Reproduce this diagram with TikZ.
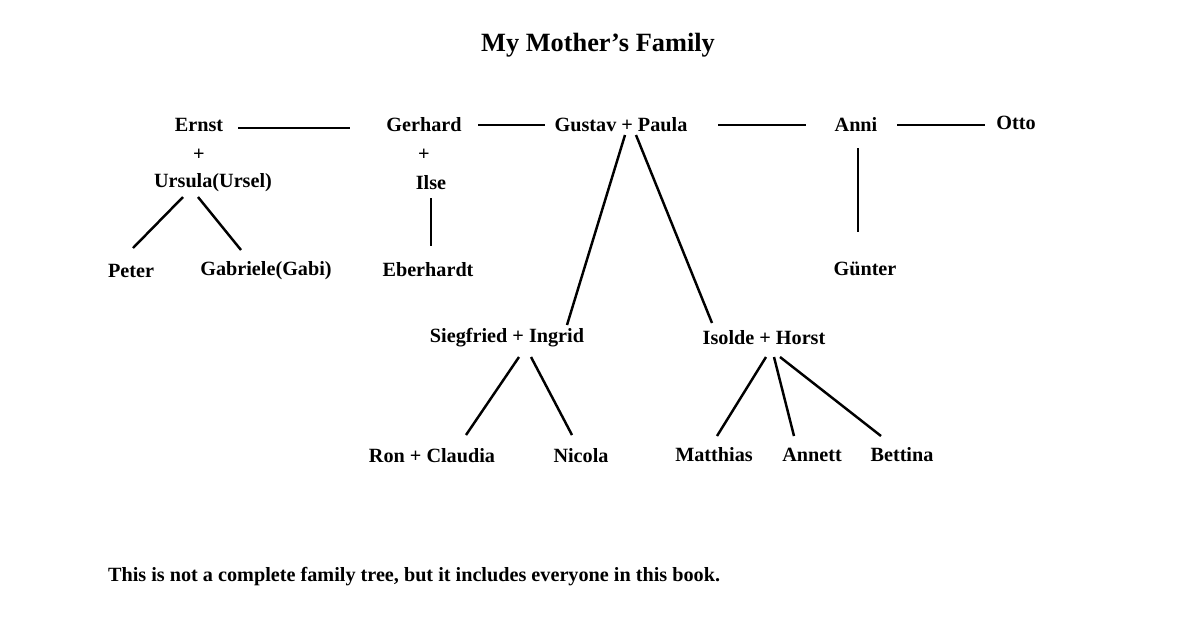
\documentclass[tikz,border=0pt]{standalone}
\usepackage{fontspec}
\setmainfont{Liberation Serif}
\begin{document}
\begin{tikzpicture}[x=0.02cm,y=-0.02cm,
  nm/.style={font=\fontsize{11.5}{13}\selectfont\bfseries,inner sep=1pt},
  ln/.style={line width=1.4pt}]
\useasboundingbox (0,0) rectangle (1200,630);
\node[font=\fontsize{15}{17}\selectfont\bfseries] (title) at (598,45) {My Mother’s Family};
\node[nm] (ernst) at (199,125) {Ernst};
\node[nm] (p1) at (199,155) {+};
\node[nm] (ursula) at (213,183) {Ursula(Ursel)};
\node[nm] (peter) at (131,271) {Peter};
\node[nm] (gabi) at (266,271) {Gabriele(Gabi)};
\node[nm] (gerhard) at (424,125) {Gerhard};
\node[nm] (p2) at (424,155) {+};
\node[nm] (ilse) at (431,183) {Ilse};
\node[nm] (eber) at (428,270) {Eberhardt};
\node[nm] (gustav) at (621,125) {Gustav + Paula};
\node[nm] (anni) at (856,124) {Anni};
\node[nm] (otto) at (1016,123) {Otto};
\node[nm] (gunter) at (865,269) {Günter};
\node[nm] (sieg) at (507,338) {Siegfried + Ingrid};
\node[nm] (isolde) at (764,338) {Isolde + Horst};
\node[nm] (ron) at (432,456) {Ron + Claudia};
\node[nm] (nicola) at (581,456) {Nicola};
\node[nm] (matt) at (714,455) {Matthias};
\node[nm] (annett) at (812,455) {Annett};
\node[nm] (bett) at (902,455) {Bettina};
\node[nm,anchor=west] (foot) at (106,577) {This is not a complete family tree, but it includes everyone in this book.};
\coordinate (e1) at (238,128); \coordinate (e2) at (350,128);
\coordinate (g1) at (478,125); \coordinate (g2) at (545,125);
\coordinate (a1) at (718,125); \coordinate (a2) at (806,125);
\coordinate (o1) at (897,125); \coordinate (o2) at (985,125);
\draw[ln] (e1) -- (e2);
\draw[ln] (g1) -- (g2);
\draw[ln] (a1) -- (a2);
\draw[ln] (o1) -- (o2);
\draw[ln] (183,197) -- (133,248);
\draw[ln] (198,197) -- (241,250);
\draw[ln] (431,198) -- (431,246);
\draw[ln] (858,148) -- (858,232);
\draw[ln] (625,135) -- (567,325);
\draw[ln] (636,135) -- (712,323);
\draw[ln] (519,357) -- (466,435);
\draw[ln] (531,357) -- (572,435);
\draw[ln] (766,357) -- (717,436);
\draw[ln] (774,357) -- (794,436);
\draw[ln] (780,357) -- (881,436);
\end{tikzpicture}
\end{document}
